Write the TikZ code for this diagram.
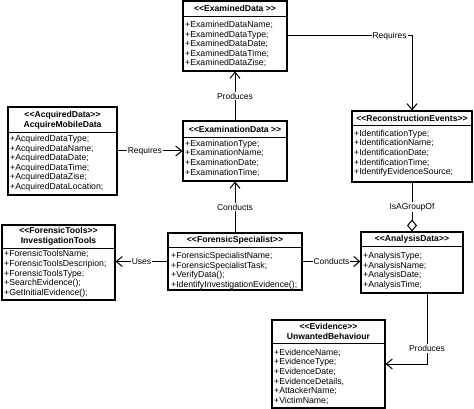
\documentclass[tikz,border=0pt]{standalone}
\usepackage{fontspec}
\setmainfont{Liberation Sans}
\usetikzlibrary{arrows.meta,fit,calc}
\tikzset{
  cls/.style={draw, line width=1.1pt, inner sep=0pt},
  divline/.style={line width=0.9pt},
  hdr/.style={font=\fontsize{8.6}{10}\selectfont\bfseries, align=center, inner sep=0pt},
  attr/.style={font=\fontsize{8.7}{9.6}\selectfont, align=left, anchor=north west, inner sep=0pt},
  assoc/.style={line width=1pt, -{Straight Barb[length=6pt,width=10pt,line width=1pt]}},
  aggr/.style={line width=1pt, -{Diamond[open,length=12pt,width=10pt,line width=1pt]}},
  lbl/.style={font=\fontsize{8.5}{10}\selectfont, fill=white, inner sep=1pt},
}
\newcommand\clsdiv[2]{\draw[divline] (#1.west |- 0,#2) -- (#1.east |- 0,#2);}
\newcommand\stopen{<\kern0pt<}
\newcommand\stclose{>\kern0pt>}
\begin{document}
\begin{tikzpicture}[x=1pt,y=-1pt]
\useasboundingbox (0,0) rectangle (474,409);
\fill[white] (0,0) rectangle (474,409);

% ExaminedData
\node[cls, fit={(183,1) (287,71)}] (exd) {};
\clsdiv{exd}{16}
\node[hdr] (exdh) at (235,8.5) {\stopen ExaminedData \stclose};
\node[attr] (exda) at (185,21) {+ExaminedDataName;\\+ExaminedDataType;\\+ExaminedDataDate;\\+ExaminedDataTime;\\+ExaminedDataZise;};

% AcquiredData
\node[cls, fit={(8,107) (117,195)}] (acq) {};
\clsdiv{acq}{132}
\node[hdr] (acqh) at (62.5,120) {\stopen AcquiredData\stclose\\AcquireMobileData};
\node[attr] (acqa) at (10,135) {+AcquiredDataType;\\+AcquiredDataName;\\+AcquiredDataDate;\\+AcquiredDataTime;\\+AcquiredDataZise;\\+AcquiredDataLocation;};

% ExaminationData
\node[cls, fit={(183,121) (287,181)}] (exa) {};
\clsdiv{exa}{137}
\node[hdr] (exah) at (235,129) {\stopen ExaminationData \stclose};
\node[attr] (exaa) at (185,139.7) {+ExaminationType;\\+ExaminationName;\\+ExaminationDate;\\+ExaminationTime;};

% ReconstructionEvents
\node[cls, fit={(352,111) (472,182)}] (rec) {};
\clsdiv{rec}{125}
\node[hdr] (rech) at (412,118.5) {\stopen ReconstructionEvents\stclose};
\node[attr] (reca) at (354,129.7) {+IdentificationType;\\+IdentificationName;\\+IdentificationDate;\\+IdentificationTime;\\+IdentifyEvidenceSource;};

% InvestigationTools
\node[cls, fit={(2,225) (115,300)}] (it) {};
\clsdiv{it}{248}
\node[hdr] (ith) at (58.5,236.5) {\stopen ForensicTools\stclose\\InvestigationTools};
\node[attr] (ita) at (4,250.3) {+ForensicToolsName;\\+ForensicToolsDescripion;\\+ForensicToolsType;\\+SearchEvidence();\\+GetInitialEvidence();};

% ForensicSpecialist
\node[cls, fit={(168,233) (302,290)}] (fs) {};
\clsdiv{fs}{247}
\node[hdr] (fsh) at (235,240) {\stopen ForensicSpecialist\stclose};
\node[attr] (fsa) at (171,252) {+ForensicSpecialistName;\\+ForensicSpecialistTask;\\+VerifyData();\\+IdentifyInvestigationEvidence();};

% AnalysisData
\node[cls, fit={(361,232) (463,293)}] (ana) {};
\clsdiv{ana}{246}
\node[hdr] (anah) at (412,239.5) {\stopen AnalysisData\stclose};
\node[attr] (anaa) at (363,252) {+AnalysisType;\\+AnalysisName;\\+AnalysisDate;\\+AnalysisTime;};

% Evidence
\node[cls, fit={(272,320) (385,408)}] (ev) {};
\clsdiv{ev}{343}
\node[hdr] (evh) at (328.5,331.5) {\stopen Evidence\stclose\\UnwantedBehaviour};
\node[attr] (eva) at (274,348.7) {+EvidenceName;\\+EvidenceType;\\+EvidenceDate;\\+EvidenceDetails,\\+AttackerName;\\+VictimName;};

% connectors
\draw[assoc] (exd.east) -| node[lbl, pos=0.41] {Requires} (rec.north);
\draw[assoc] (exa.north) -- node[lbl] {Produces} (exd.south);
\draw[assoc] (acq.east) -- node[lbl, pos=0.42] {Requires} (exa.west |- acq.east);
\draw[assoc] (fs.north) -- node[lbl] {Conducts} (exa.south);
\draw[assoc] (fs.west) -- node[lbl] {Uses} (it.east |- fs.west);
\draw[assoc] (fs.east) -- node[lbl] {Conducts} (ana.west |- fs.east);
\draw[aggr] (rec.south) -- node[lbl] {IsAGroupOf} (rec.south |- ana.north);
\draw[assoc] (ana.south -| 427,0) |- node[lbl, pos=0.39] {Produces} (ev.east);
\end{tikzpicture}
\end{document}
